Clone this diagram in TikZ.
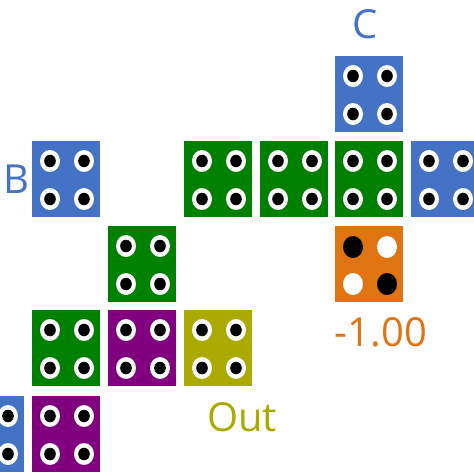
\documentclass[tikz,border=0pt]{standalone}
\usepackage{fontspec}
\setmainfont{Open Sans}
\definecolor{cblue}{HTML}{4472C4}
\definecolor{cgreen}{HTML}{008000}
\definecolor{cpurple}{HTML}{800080}
\definecolor{colive}{HTML}{AAAA00}
\definecolor{corange}{HTML}{DF7410}
\tikzset{
  blk/.style={fill=#1, draw=none, minimum width=68pt, minimum height=76pt, inner sep=0pt, outer sep=0pt, anchor=north west, rectangle},
  lbl/.style={text=#1, font=\fontsize{40}{40}\selectfont, inner sep=0pt, anchor=center},
}
\newcommand{\ringdots}[1]{%
  \foreach \dx in {18,52} \foreach \dy in {20,58} {
    \fill[white] ($(#1.north west)+(\dx,\dy)$) ellipse[x radius=10pt, y radius=11pt];
    \fill[black] ($(#1.north west)+(\dx,\dy)$) ellipse[x radius=5.8pt, y radius=6.3pt];
  }}
\usetikzlibrary{calc}
\begin{document}
\begin{tikzpicture}[x=1pt,y=-1pt]
\useasboundingbox (0,0) rectangle (474,474);
% row 0
\node[blk=cblue] (c) at (335,56) {};
% row 1
\node[blk=cblue] (b) at (32,141) {};
\node[blk=cgreen] (g1) at (184,141) {};
\node[blk=cgreen] (g2) at (260,141) {};
\node[blk=cgreen] (g3) at (335,141) {};
\node[blk=cblue] (b2) at (411,141) {};
% row 2
\node[blk=cgreen] (g4) at (108,226) {};
\node[blk=corange] (o) at (335,226) {};
% row 3
\node[blk=cgreen] (g5) at (32,310) {};
\node[blk=cpurple] (p1) at (108,310) {};
\node[blk=colive] (ol) at (184,310) {};
% row 4
\node[blk=cblue] (b3) at (-44,396) {};
\node[blk=cpurple] (p2) at (32,396) {};
\foreach \n in {c,b,g1,g2,g3,b2,g4,g5,p1,ol,b3,p2} {\ringdots{\n}}
% orange block dots
\fill[black] ($(o.north west)+(18,21)$) ellipse[x radius=10pt, y radius=11pt];
\fill[white] ($(o.north west)+(52,21)$) ellipse[x radius=10pt, y radius=11pt];
\fill[white] ($(o.north west)+(18,58)$) ellipse[x radius=10pt, y radius=11pt];
\fill[black] ($(o.north west)+(52,58)$) ellipse[x radius=10pt, y radius=11pt];
% labels
\node[lbl=cblue] (lc) at (365,24) {C};
\node[lbl=cblue] (lb) at (16,179) {B};
\node[lbl=corange] (lo) at (381,332) {-1.00};
\node[lbl=colive] (lout) at (242,417) {Out};
\end{tikzpicture}
\end{document}
